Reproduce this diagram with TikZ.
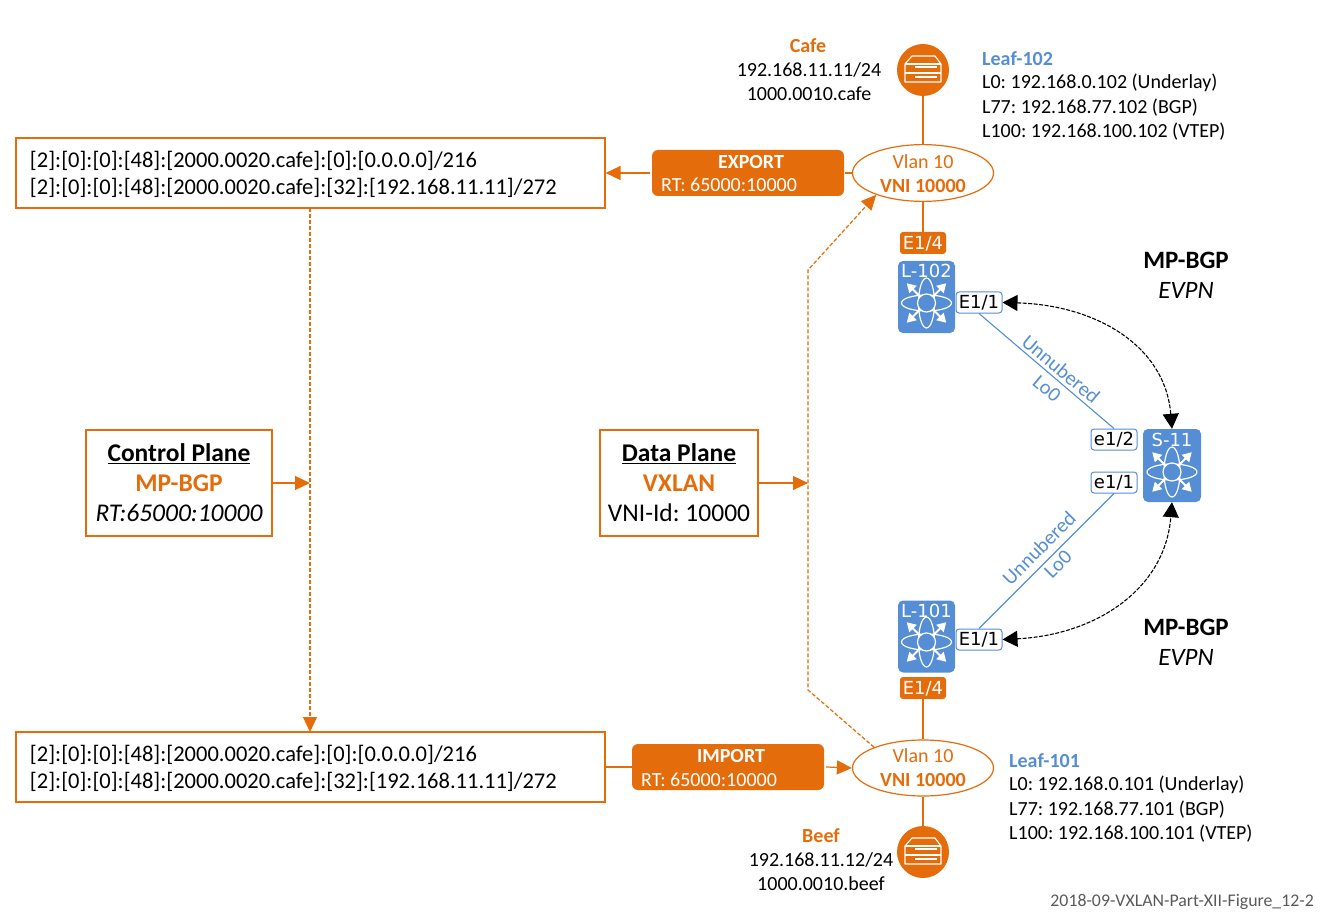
\documentclass[tikz,border=0pt]{standalone}
\usepackage{fontspec}
\setmainfont{Carlito}
\newfontfamily\verdfont{DejaVu Sans}
\usetikzlibrary{arrows.meta,positioning,shapes.geometric}
\frenchspacing

\definecolor{vxorange}{RGB}{228,108,10}
\definecolor{vxblue}{RGB}{85,142,213}
\newcommand{\fsz}[1]{\fontsize{#1}{#1}\selectfont}
\newcommand{\txtlift}[1]{\rule{0pt}{#1pt}}

\tikzset{
    rtbox/.style={draw=vxorange, line width=1.1pt, minimum width=589, minimum height=70,
        align=left, text width=561, font=\fsz{22.5}, inner sep=0pt},
    planebox/.style={draw=vxorange, line width=1.1pt, align=center, font=\fsz{25.5},
        minimum height=106, inner sep=0pt},
    policybox/.style={fill=vxorange, rounded corners=6, minimum width=192, minimum height=46, inner sep=0pt},
    vlanell/.style={ellipse, draw=vxorange, line width=1.2pt, fill=white, minimum width=141,
        minimum height=56, inner sep=0pt, align=center, text=vxorange, font=\fsz{20}},
    srvcirc/.style={circle, fill=vxorange, minimum size=52, inner sep=0pt},
    portorange/.style={fill=vxorange, rounded corners=3, minimum width=46, minimum height=22,
        inner sep=0pt, text=white, font=\verdfont\fsz{18}},
    portblue/.style={draw=vxblue, fill=white, line width=1pt, rounded corners=3, minimum width=46,
        minimum height=21, inner sep=0pt, font=\verdfont\fsz{18}},
    swbox/.style={fill=vxblue, rounded corners=5, minimum width=57, minimum height=72, inner sep=0pt},
    swname/.style={text=white, font=\verdfont\fsz{18}, inner sep=0pt},
    txt/.style={font=\fsz{20}, inner sep=0pt, yshift=-1pt},
    txtleft/.style={txt, anchor=west},
    pollab/.style={font=\fsz{20}, text=white, inner sep=0pt},
    bigtxt/.style={font=\fsz{25}, inner sep=0pt},
    blab/.style={font=\fsz{20.5}, text=vxblue, inner sep=0pt},
    orline/.style={draw=vxorange, line width=1.2pt},
    orarrow/.style={orline, -{Triangle[length=15,width=14]}},
    ordash/.style={draw=vxorange, line width=1.2pt, dash pattern=on 4pt off 2pt},
    bgpdash/.style={draw=black, line width=1.1pt, dash pattern=on 4pt off 1.5pt,
        {Triangle[length=15,width=16]}-{Triangle[length=15,width=16]}},
    pics/swicon/.style={code={
        \draw[white, line width=1.2pt] (0,0) ellipse (25 and 8);
        \draw[white, line width=1.2pt] (0,0) ellipse (8 and 25);
        \foreach \ang in {45,135,225,315} {
            \draw[white, line width=2pt, -{Triangle[length=9,width=10]}] (\ang:8) -- (\ang:28);
        }
        \draw[white, fill=vxblue, line width=1.2pt] (0,0) circle (9);
    }},
    pics/srvicon/.style={code={
        \draw[white, line width=1.1pt, line join=round] (-18,-6) -- (-11,-14) -- (12,-14) -- (18,-6)
            -- (18,12) -- (-18,12) -- cycle;
        \draw[white, line width=1.1pt] (-18,-6) -- (18,-6) (-18,3) -- (18,3);
        \draw[white, line width=1.2pt] (-8,-3) -- (14,-3) (-8,7) -- (14,7);
    }},
}

\begin{document}
\begin{tikzpicture}[x=1pt, y=-1pt]
    \useasboundingbox (0,0) rectangle (1334,912);

    % left column
    \node[rtbox] (rttop) at (310.5,173) {\txtlift{19.5}[2]:[0]:[0]:[48]:[2000.0020.cafe]:[0]:[0.0.0.0]/216\\[4.5pt]
        [2]:[0]:[0]:[48]:[2000.0020.cafe]:[32]:[192.168.11.11]/272};
    \node[rtbox] (rtbot) at (310.5,767) {\txtlift{19.5}[2]:[0]:[0]:[48]:[2000.0020.cafe]:[0]:[0.0.0.0]/216\\[4.5pt]
        [2]:[0]:[0]:[48]:[2000.0020.cafe]:[32]:[192.168.11.11]/272};
    \node[planebox, minimum width=186] (ctrl) at (179,483) {\textbf{\underline{Control Plane}}\\[4.5pt]
        \textcolor{vxorange}{\textbf{MP-BGP}}\\[4.5pt]\textit{RT:65000:10000}};
    \node[planebox, minimum width=158] (data) at (679,483) {\textbf{\underline{Data Plane}}\\[4.5pt]
        \textcolor{vxorange}{\textbf{VXLAN}}\\[4.5pt]VNI-Id: 10000};

    % export and import
    \node[policybox] (export) at (748,173) {};
    \node[pollab] at (751,162) {\textbf{EXPORT}};
    \node[pollab, anchor=west] at (661,185) {RT: 65000:10000};
    \node[policybox] (import) at (728,767) {};
    \node[pollab] at (731,756) {\textbf{IMPORT}};
    \node[pollab, anchor=west] at (641,780) {RT: 65000:10000};

    % vlans
    \node[vlanell] (vlantop) at (923,173) {\txtlift{16}Vlan 10\\[4pt]\textbf{VNI 10000}};
    \node[vlanell] (vlanbot) at (923,768) {Vlan 10\\[4pt]\textbf{VNI 10000}};

    % servers
    \node[srvcirc] (cafe) at (923,70) {};
    \pic at (cafe) {srvicon};
    \node[srvcirc] (beef) at (923,852) {};
    \pic at (beef) {srvicon};

    % ports
    \node[portorange] (p14top) at (923,243) {\txtlift{15}E1/4};
    \node[portorange] (p14bot) at (923,688) {\txtlift{15}E1/4};

    % switches
    \node[swbox] (l102) at (926.5,297) {};
    \pic at (926.5,303) {swicon};
    \node[swname] at (926.5,271) {L-102};
    \node[swbox] (l101) at (926.5,636.5) {};
    \pic at (926.5,642) {swicon};
    \node[swname] at (926.5,611) {L-101};
    \node[swbox, minimum width=58, minimum height=73] (s11) at (1172,465.5) {};
    \pic at (1172,472) {swicon};
    \node[swname] at (1172,440) {S-11};

    \node[portblue] (e11top) at (979,302.5) {E1/1};
    \node[portblue] (e11bot) at (979,639.5) {E1/1};
    \node[portblue] (e12s) at (1114,439.5) {e1/2};
    \node[portblue] (e11s) at (1114,482.5) {e1/1};

    % orange connectors
    \draw[orline] (cafe) -- (vlantop);
    \draw[orline] (vlantop) -- (p14top);
    \draw[orline] (beef) -- (vlanbot);
    \draw[orline] (vlanbot) -- (p14bot);
    \coordinate (ctrlend) at (310,483);
    \coordinate (dataend) at (808,483);
    \draw[orarrow] (ctrl) -- (ctrlend);
    \draw[orarrow] (data) -- (dataend);
    \draw[orarrow] ([xshift=-2]export.west) -- (rttop.east);
    \draw[orline] (vlantop.west) -- ([xshift=1]export.east);
    \draw[orline] (rtbot.east) -- (import.west);
    \draw[orarrow] ([xshift=2]import.east) -- (vlanbot.west);

    % route flow
    \coordinate (ctrldown) at (310,208);
    \coordinate (ctrlup) at (310,732);
    \draw[ordash, -{Triangle[length=15,width=14]}] (ctrldown) -- (ctrlup);
    \coordinate (bend1) at (808,690);
    \coordinate (bend2) at (808,270);
    \draw[ordash, -{Triangle[length=15,width=14]}] (vlanbot.157) -- (bend1) -- (bend2) -- (vlantop.205);

    % underlay
    \draw[vxblue, line width=1.1pt] (e11top.south) -- (e12s.north);
    \draw[vxblue, line width=1.1pt] (e11bot.north) -- (e11s.south);
    \node[blab, rotate=-40] at (1061,369) {Unnubered};
    \node[blab, rotate=-40] at (1047,389) {Lo0};
    \node[blab, rotate=45] at (1039,548) {Unnubered};
    \node[blab, rotate=45] at (1058,564) {Lo0};

    % overlay
    \draw[bgpdash] (e11top.east) .. controls (1095,305) and (1165,345) .. (s11.north);
    \draw[bgpdash] (e11bot.east) .. controls (1095,635) and (1165,590) .. (s11.south);
    \node[bigtxt] at (1186,260) {\textbf{MP-BGP}};
    \node[bigtxt] at (1186,290) {\textit{EVPN}};
    \node[bigtxt] at (1186,627) {\textbf{MP-BGP}};
    \node[bigtxt] at (1186,657) {\textit{EVPN}};

    % host and leaf texts
    \node[txt, text=vxorange] at (808,45) {\textbf{Cafe}};
    \node[txt] at (809,69) {192.168.11.11/24};
    \node[txt] at (809,93) {1000.0010.cafe};
    \node[txt, text=vxorange] at (821,835) {\textbf{Beef}};
    \node[txt] at (821,859) {192.168.11.12/24};
    \node[txt] at (821,883) {1000.0010.beef};

    \node[txtleft, text=vxblue] at (982,58) {\textbf{Leaf-102}};
    \node[txtleft] at (982,82) {L0: 192.168.0.102 (Underlay)};
    \node[txtleft] at (982,107) {L77: 192.168.77.102 (BGP)};
    \node[txtleft] at (982,131) {L100: 192.168.100.102 (VTEP)};
    \node[txtleft, text=vxblue] at (1009,760) {\textbf{Leaf-101}};
    \node[txtleft] at (1009,784) {L0: 192.168.0.101 (Underlay)};
    \node[txtleft] at (1009,809) {L77: 192.168.77.101 (BGP)};
    \node[txtleft] at (1009,833) {L100: 192.168.100.101 (VTEP)};

    \node[font=\fsz{17.8}, text=black!65, inner sep=0pt, anchor=east] at (1314,902) {2018-09-VXLAN-Part-XII-Figure\_12-2};
\end{tikzpicture}
\end{document}
